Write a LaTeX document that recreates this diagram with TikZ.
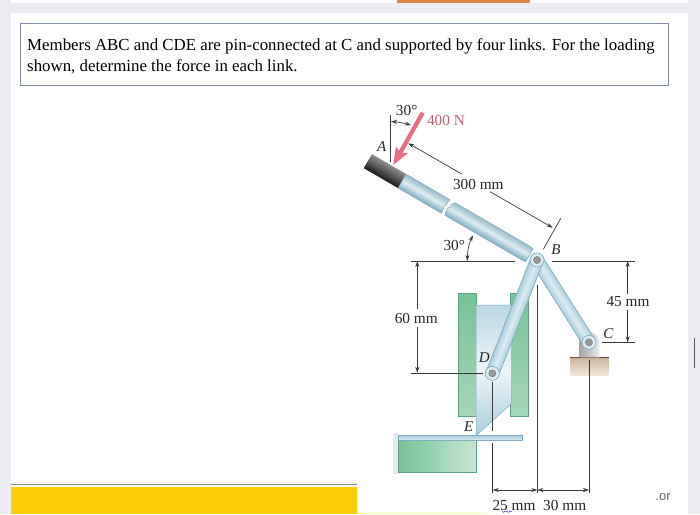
\documentclass[tikz,border=0pt]{standalone}
\usepackage{fontspec}
\setmainfont{Liberation Serif}
\setsansfont{Liberation Sans}
\usetikzlibrary{arrows.meta}
\definecolor{pagebg}{HTML}{ECEDF3}
\definecolor{dimc}{HTML}{3A3A3A}
\definecolor{frame}{HTML}{7E8CA8}
\definecolor{steelD}{HTML}{7FADC2}
\definecolor{steelM}{HTML}{A9CEDD}
\definecolor{steelL}{HTML}{DCECF2}
\definecolor{greenD}{HTML}{5FA27F}
\definecolor{greenM}{HTML}{76C397}
\definecolor{greenL}{HTML}{BADFC8}
\definecolor{pinkf}{HTML}{E96C82}
\definecolor{yellowb}{HTML}{FFCC08}
\definecolor{orangeb}{HTML}{E0854A}
\tikzset{
  dimline/.style={draw=dimc,line width=0.7pt},
  dimarrow/.style={dimline,-{Stealth[length=6pt,width=4pt]}},
  dimboth/.style={dimline,{Stealth[length=6pt,width=4pt]}-{Stealth[length=6pt,width=4pt]}},
  lab/.style={inner sep=0pt,text=black!85,font=\fontsize{15.3}{17}\selectfont},
  ital/.style={inner sep=0pt,text=black!85,font=\fontsize{15}{17}\selectfont\itshape},
  steel/.style={draw=steelD,line width=0.5pt,top color=steelM!90!black,bottom color=steelD,middle color=steelL},
  linkbar/.style={draw=steelD,line width=0.7pt,top color=steelM,bottom color=steelM,middle color=steelL},
  greenbar/.style={draw=greenD,line width=0.7pt,top color=greenM,bottom color=greenL!70!greenM},
  pinouter/.style={draw=steelD,line width=0.7pt,fill=steelL},
  pininner/.style={draw=black!55,line width=0.5pt,fill=black!40},
}
\begin{document}
\begin{tikzpicture}[x=1pt,y=-1pt]
\useasboundingbox (0,0) rectangle (700,514);
% page
\fill[pagebg] (0,0) rectangle (700,514);
\fill[white] (11,0) rectangle (688,3);
\fill[white] (11,13) rectangle (688,514);
\fill[orangeb] (397,0) rectangle (530,3);
\fill[black!65] (693.5,338) rectangle (695,368);
% statement box
\node[draw=frame,line width=1pt,minimum width=648pt,minimum height=62pt,anchor=north west,inner sep=0pt] (box) at (20,23) {};
\node[inner sep=0pt,anchor=base west,font=\fontsize{16.85}{21}\selectfont,text=black] (l1) at (27,50) {Members ABC and CDE are pin-connected at C and supported by four links. For the loading};
\node[inner sep=0pt,anchor=base west,font=\fontsize{16.85}{21}\selectfont,text=black] (l2) at (27,71) {shown, determine the force in each link.};
% bottom band
\fill[black!45] (11,484) rectangle (357,485);
\fill[yellowb] (11,486.5) rectangle (357,514);
\fill[yellow!35] (357,512.5) rectangle (487,514);
\node[inner sep=0pt,font=\sffamily\fontsize{13}{15}\selectfont,text=black!60] (orx) at (663,497) {.or};
% key points
\coordinate (B) at (537,260);
\coordinate (C) at (589,342.3);
\coordinate (D) at (492.3,373.3);
\coordinate (O) at (367.85,161.15);
% green guides and ground
\fill[steelL!70!pagebg] (392.7,433) rectangle (398.3,474);
\shade[draw=greenD,line width=0.7pt,left color=greenM,right color=greenL!80!white] (398.3,440.7) rectangle (476,472.7);
\shade[greenbar] (458.3,293.3) rectangle (476,416.7);
\shade[greenbar] (510.7,293.3) rectangle (528,416.7);
% plate
\shade[draw=steelD,line width=0.5pt,top color=steelM!80!white,bottom color=steelM,middle color=steelL!50!white]
  (476,305) -- (511.7,305) -- (511.7,403.3) -- (476,435.7) -- cycle;
% thin bar
\shade[draw=steelD,line width=0.5pt,top color=steelM,bottom color=steelL] (398.3,435.7) rectangle (522.3,440.7);
% support
\shade[top color=brown!60!gray!60,bottom color=brown!25!white!80] (570,357.3) rectangle (608.7,375);
\draw[brown!60!black,line width=0.6pt] (570,357.3) -- (608.7,357.3);
\shade[left color=black!35,right color=black!8]
  (579.3,357.3) -- (579.3,342.3) arc[start angle=180,end angle=360,x radius=10,y radius=10] -- (599.3,357.3) -- cycle;
% link BC
\begin{scope}[transform canvas={shift={(B)},rotate=-57.7}]
\shade[linkbar] (0,-6.5) rectangle (97.3,6.5);
\end{scope}
\filldraw[pinouter] (C) circle[radius=7];
\filldraw[pininner] (C) circle[radius=3.5];
% tube
\begin{scope}[transform canvas={shift={(O)},rotate=-30.2}]
\shade[top color=black!45,bottom color=black!90,middle color=black!65] (0,-8.1) rectangle (39.7,8.1);
\shade[steel] (39.7,-8) -- (90.6,-8) .. controls (88,-4) and (92,-2) .. (88,1) .. controls (91,3) and (88,6) .. (90,8) -- (39.7,8) -- cycle;
\shade[steel] (96.4,-8) -- (183,-8) -- (187,-7) -- (187,7.5) -- (183,8) -- (94,8) .. controls (91,5) and (95,3) .. (92,1) .. controls (96,-2) and (92,-5) .. (96.4,-8) -- cycle;
\end{scope}
% link BD
\begin{scope}[transform canvas={shift={(B)},rotate=-111.5}]
\shade[linkbar] (0,-6.5) rectangle (121.8,6.5);
\end{scope}
\filldraw[pinouter] (D) circle[radius=7];
\filldraw[pininner] (D) circle[radius=3.5];
\filldraw[pinouter] (B) circle[radius=7];
\filldraw[pininner] (B) circle[radius=3.5];
% force
\coordinate (F0) at (422.7,112.7);
\coordinate (F1) at (393.3,165);
\draw[pinkf,line width=4.2pt,-{Stealth[length=17pt,width=13pt,inset=3pt]}] (F0) -- (F1);
\node[lab,text=pinkf!85!black] (N400) at (446,120) {400 N};
% top dims
\coordinate (vA0) at (390.7,115);
\coordinate (vA1) at (390.7,161.7);
\draw[dimline] (vA0) -- (vA1);
\node[lab] (a30) at (406.7,110.7) {30°};
\coordinate (a30s) at (391,121.5);
\coordinate (a30e) at (411,125);
\draw[dimboth] (a30s) .. controls (398,122) and (405,123.5) .. (a30e);
\node[ital] (lA) at (381.7,146.7) {A};
\node[lab] (d300) at (478.3,184.3) {300 mm};
\coordinate (t0) at (560.7,218.3);
\coordinate (t1) at (543.3,249.3);
\coordinate (p0) at (408.3,143.3);
\coordinate (p1) at (552.7,227.7);
\draw[dimline] (t0) -- (t1);
\draw[dimarrow] (461.7,174) -- (p0);
\draw[dimarrow] (490,191.7) -- (p1);
\node[ital] (lB) at (556,250) {B};
% 30 deg lower
\node[lab] (b30) at (454.3,245.7) {30°};
\coordinate (b30s) at (467.3,261);
\coordinate (b30e) at (473,235.5);
\draw[dimboth] (b30s) .. controls (467.5,250) and (469,243) .. (b30e);
% horizontal extension lines
\coordinate (h0) at (411,261);
\coordinate (h1) at (515,261);
\coordinate (h2) at (552,261);
\coordinate (h3) at (635,261);
\draw[dimline] (h0) -- (h1);
\draw[dimline] (h2) -- (h3);
% 60 mm
\node[lab] (d60) at (416.3,318) {60 mm};
\coordinate (v60a) at (417.3,261);
\coordinate (v60b) at (417.3,372.7);
\draw[dimarrow] (417.3,309) -- (v60a);
\draw[dimarrow] (417.3,327) -- (v60b);
\coordinate (e0) at (410.7,373);
\coordinate (e1) at (483.3,373);
\draw[dimline] (e0) -- (e1);
\node[ital] (lD) at (484.3,357.3) {D};
\node[ital] (lE) at (468.7,426.7) {E};
% 45 mm
\node[lab] (d45) at (628,302) {45 mm};
\coordinate (v45a) at (627.7,261);
\coordinate (v45b) at (627.7,342.3);
\draw[dimarrow] (627.7,294) -- (v45a);
\draw[dimarrow] (627.7,310) -- (v45b);
\coordinate (c0) at (601.7,342.3);
\coordinate (c1) at (635,342.3);
\draw[dimline] (c0) -- (c1);
\node[ital] (lC) at (608.3,333.3) {C};
% vertical extension lines
\coordinate (xD0) at (492.7,381.7);
\coordinate (xD1) at (492.7,430.7);
\coordinate (xD2) at (492.7,443.3);
\coordinate (xD3) at (492.7,493.3);
\coordinate (xB0) at (537.3,285);
\coordinate (xB1) at (537.3,493.3);
\coordinate (xC0) at (589,360);
\coordinate (xC1) at (589,493.3);
\draw[dimline] (xD0) -- (xD1);
\draw[dimline] (xD2) -- (xD3);
\draw[dimline] (xB0) -- (xB1);
\draw[dimline] (xC0) -- (xC1);
% bottom dims
\coordinate (g0) at (492.7,490);
\coordinate (g1) at (537.3,490);
\coordinate (g2) at (589,490);
\draw[dimboth] (g0) -- (g1);
\draw[dimboth] (g1) -- (g2);
\node[lab] (d25) at (514,505.7) {25 mm};
\node[lab] (d30) at (564.7,505.7) {30 mm};
\draw[blue!50!gray,line width=0.6pt] (502,511.5) .. controls (504,514) and (505,509.5) .. (507,511.5) .. controls (509,514) and (510,509.5) .. (512,511.5);
\end{tikzpicture}
\end{document}
